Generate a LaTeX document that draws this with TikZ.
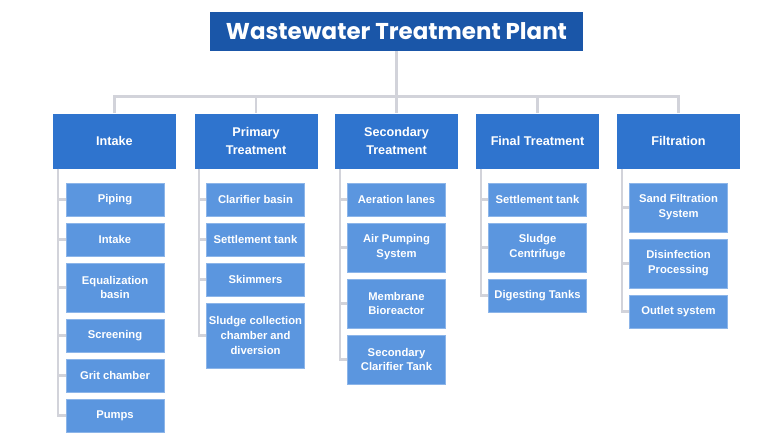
\documentclass[tikz,border=0pt]{standalone}
\usepackage{fontspec}
\setmainfont{Liberation Sans}
\newfontfamily\titlefont{Poppins}
\usepackage{xcolor}
\usetikzlibrary{positioning,calc}
\definecolor{plantDark}{HTML}{1A56A8}
\definecolor{plantMid}{HTML}{2F74CE}
\definecolor{plantLight}{HTML}{5B96DF}
\definecolor{plantLine}{HTML}{D2D3DA}

\begin{document}
\begin{tikzpicture}[x=0.25mm, y=-0.25mm,
  font=\bfseries\fontsize{8}{10.6}\selectfont,
  root/.style={fill=plantDark,text=white,minimum width=93.25mm,minimum height=9.75mm,
    font=\titlefont\bfseries\fontsize{16.3}{18}\selectfont},
  head/.style={fill=plantMid,text=white,minimum width=30.75mm,minimum height=13.75mm,
    align=center,font=\bfseries\fontsize{9}{12.8}\selectfont},
  leaf/.style={fill=plantLight,draw=plantLight!70!white,text=white,minimum width=24.5mm,
    minimum height=8.25mm,align=center,inner sep=1pt},
  leaftwo/.style={leaf,minimum height=12.25mm},
  leafthree/.style={leaf,minimum height=16.25mm},
  conn/.style={plantLine,line width=1.5pt}]
\useasboundingbox (0,0) rectangle (768,443);
% --- root and branches ---
  \node[root] (top) at (396.5,31.5) {Wastewater Treatment Plant};
  \node[head] (intake) at (114.5,141) {Intake};
  \node[head] (prim) at (256,141) {Primary\\Treatment};
  \node[head] (sec) at (396.5,141) {Secondary\\Treatment};
  \node[head] (fin) at (537.5,141) {Final Treatment};
  \node[head] (filt) at (678.5,141) {Filtration};
  \coordinate (bus) at (396.5,96.5);
  \draw[conn] (top.south) -- (bus);
  \draw[conn] (bus) -| (intake.north);
  \draw[conn] (bus) -| (prim.north);
  \draw[conn] (bus) -| (sec.north);
  \draw[conn] (bus) -| (fin.north);
  \draw[conn] (bus) -| (filt.north);
% --- intake ---
  \node[leaf] (i1) at (115,199.5) {Piping};
  \node[leaf] (i2) at (115,239.5) {Intake};
  \node[leaftwo] (i3) at (115,287.5) {Equalization\\basin};
  \node[leaf] (i4) at (115,335.5) {Screening};
  \node[leaf] (i5) at (115,375.5) {Grit chamber};
  \node[leaf] (i6) at (115,415.5) {Pumps};
  \foreach \c in {i1,i2,i3,i4,i5,i6}
    \draw[conn] ($(intake.south west)+(5,0)$) |- (\c.west);
% --- primary ---
  \node[leaf] (p1) at (255.5,199.5) {Clarifier basin};
  \node[leaf] (p2) at (255.5,239.5) {Settlement tank};
  \node[leaf] (p3) at (255.5,279.5) {Skimmers};
  \node[leafthree] (p4) at (255.5,335.5) {Sludge collection\\chamber and\\diversion};
  \foreach \c in {p1,p2,p3,p4}
    \draw[conn] ($(prim.south west)+(5,0)$) |- (\c.west);
% --- secondary ---
  \node[leaf] (s1) at (396.5,199.5) {Aeration lanes};
  \node[leaftwo] (s2) at (396.5,247.5) {Air Pumping\\System};
  \node[leaftwo] (s3) at (396.5,303.5) {Membrane\\Bioreactor};
  \node[leaftwo] (s4) at (396.5,359.5) {Secondary\\Clarifier Tank};
  \foreach \c in {s1,s2,s3,s4}
    \draw[conn] ($(sec.south west)+(5,0)$) |- (\c.west);
% --- final treatment ---
  \node[leaf] (f1) at (537.5,199.5) {Settlement tank};
  \node[leaftwo] (f2) at (537.5,247.5) {Sludge\\Centrifuge};
  \node[leaf] (f3) at (537.5,295.5) {Digesting Tanks};
  \foreach \c in {f1,f2,f3}
    \draw[conn] ($(fin.south west)+(5,0)$) |- (\c.west);
% --- filtration ---
  \node[leaftwo] (t1) at (678.5,207.5) {Sand Filtration\\System};
  \node[leaftwo] (t2) at (678.5,263.5) {Disinfection\\Processing};
  \node[leaf] (t3) at (678.5,311.5) {Outlet system};
  \foreach \c in {t1,t2,t3}
    \draw[conn] ($(filt.south west)+(5,0)$) |- (\c.west);
\end{tikzpicture}
\end{document}
